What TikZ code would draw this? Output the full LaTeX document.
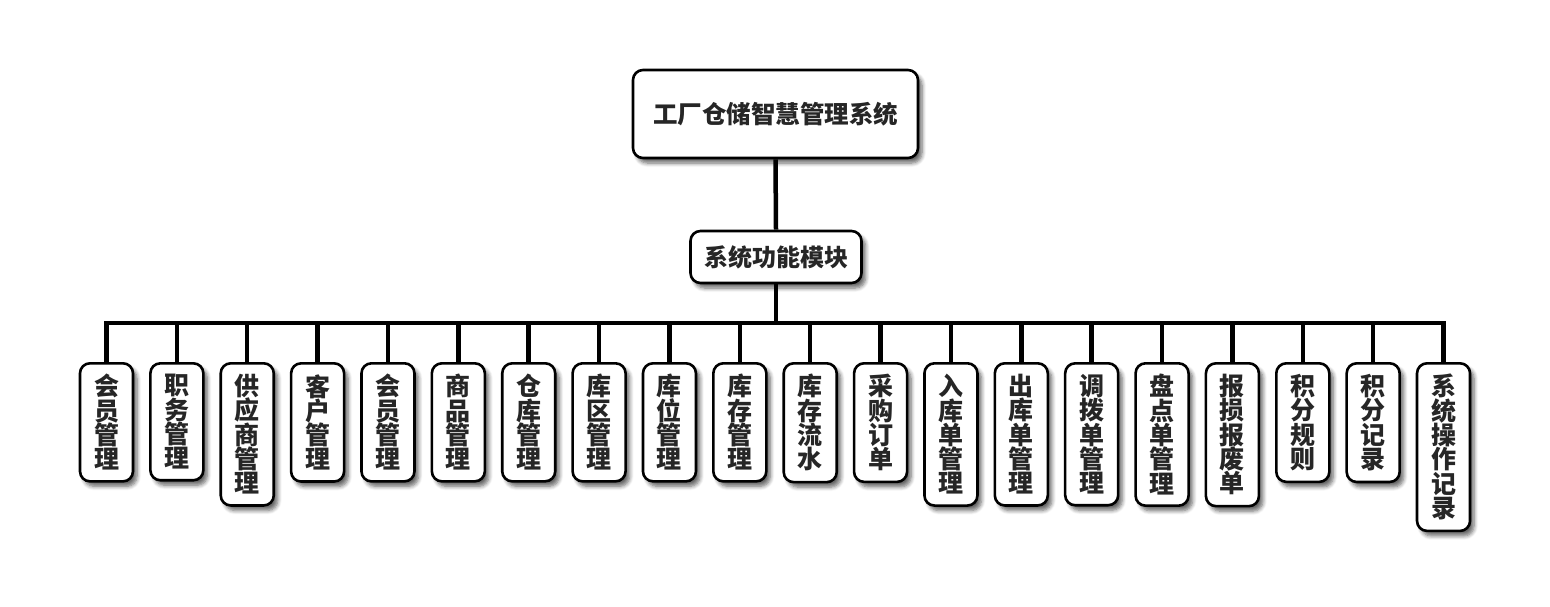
\documentclass[tikz,border=0pt]{standalone}
\usepackage{fontspec}
\newfontfamily\cjk{Noto Sans CJK SC}
\usetikzlibrary{shadows.blur}
\definecolor{txt}{HTML}{262626}
\tikzset{
  card/.style={draw=black, line width=2.6pt, fill=white, rounded corners=10pt,
    text=txt, font=\cjk\bfseries\fontsize{25}{24.3}\selectfont,
    blur shadow={shadow xshift=4pt, shadow yshift=-5pt, shadow blur steps=6,
      shadow blur radius=4pt, shadow opacity=60}},
  rootbox/.style={card, minimum width=285pt, minimum height=88pt, inner sep=0pt,
    font=\cjk\bfseries\fontsize{24.5}{28}\selectfont},
  midbox/.style={card, minimum width=171pt, minimum height=52pt, inner sep=0pt,
    font=\cjk\bfseries\fontsize{24}{28}\selectfont},
  leafbox/.style={card, anchor=north, text width=26pt, align=center,
    inner xsep=13.5pt, inner ysep=11pt},
  wire/.style={line width=4.5pt, black}
}
\begin{document}
\begin{tikzpicture}[x=1pt, y=-1pt]
\useasboundingbox (0,0) rectangle (1550,607);

\node[rootbox] (root) at (775.5,114) {工厂仓储智慧管理系统};
\node[midbox]  (mid)  at (776,257) {系统功能模块};

\coordinate (busL) at (106.5,323);
\coordinate (busR) at (1443.5,323);
\coordinate (busM) at (776,323);

% leaves, left to right
\foreach \i/\t in {
  1/会\\员\\管\\理,
  2/职\\务\\管\\理,
  3/供\\应\\商\\管\\理,
  4/客\\户\\管\\理,
  5/会\\员\\管\\理,
  6/商\\品\\管\\理,
  7/仓\\库\\管\\理,
  8/库\\区\\管\\理,
  9/库\\位\\管\\理,
  10/库\\存\\管\\理,
  11/库\\存\\流\\水,
  12/采\\购\\订\\单,
  13/入\\库\\单\\管\\理,
  14/出\\库\\单\\管\\理,
  15/调\\拨\\单\\管\\理,
  16/盘\\点\\单\\管\\理,
  17/报\\损\\报\\废\\单,
  18/积\\分\\规\\则,
  19/积\\分\\记\\录,
  20/系\\统\\操\\作\\记\\录}{
  \pgfmathsetmacro\xx{106.5+(\i-1)*70.37}
  \coordinate (tap\i) at (\xx,323);
  \node[leafbox] (leaf\i) at (\xx,362) {\t};
}

% connectors
\draw[wire] (root.south) -- (mid.north);
\draw[wire] (mid.south) -- (busM);
\draw[wire, line cap=rect] (busL) -- (busR);
\foreach \i in {1,...,20}{
  \draw[wire] (tap\i) -- (leaf\i.north);
}
\end{tikzpicture}
\end{document}
